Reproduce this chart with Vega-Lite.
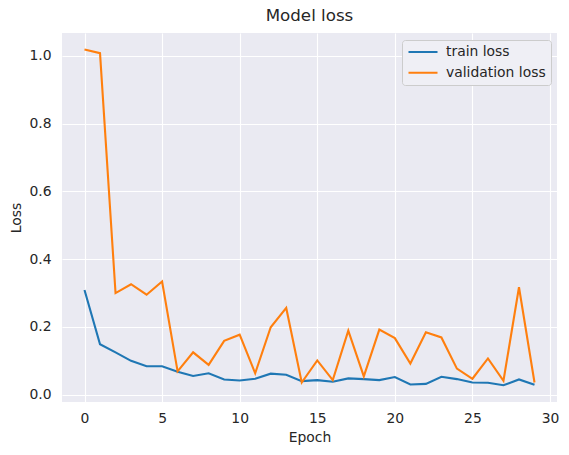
{
  "$schema": "https://vega.github.io/schema/vega-lite/v6.json",
  "autosize": "none",
  "width": 495,
  "height": 369,
  "padding": {"left": 62, "top": 33, "right": 12, "bottom": 53},
  "background": "white",
  "title": {
    "text": "Model loss",
    "font": "DejaVu Sans",
    "fontSize": 16.7,
    "fontWeight": "normal",
    "color": "#262626",
    "offset": 8
  },
  "config": {
    "view": {"fill": "#EAEAF2", "stroke": null},
    "axis": {
      "domain": false,
      "ticks": false,
      "grid": true,
      "gridColor": "white",
      "gridWidth": 1.1,
      "labelFont": "DejaVu Sans",
      "labelFontSize": 13.9,
      "labelColor": "#262626",
      "titleFont": "DejaVu Sans",
      "titleFontSize": 13.9,
      "titleFontWeight": "normal",
      "titleColor": "#262626"
    }
  },
  "data": {
    "values": [
      {"epoch": 0, "series": "train loss", "loss": 0.309},
      {"epoch": 1, "series": "train loss", "loss": 0.149},
      {"epoch": 2, "series": "train loss", "loss": 0.125},
      {"epoch": 3, "series": "train loss", "loss": 0.100},
      {"epoch": 4, "series": "train loss", "loss": 0.084},
      {"epoch": 5, "series": "train loss", "loss": 0.084},
      {"epoch": 6, "series": "train loss", "loss": 0.068},
      {"epoch": 7, "series": "train loss", "loss": 0.055},
      {"epoch": 8, "series": "train loss", "loss": 0.063},
      {"epoch": 9, "series": "train loss", "loss": 0.045},
      {"epoch": 10, "series": "train loss", "loss": 0.042},
      {"epoch": 11, "series": "train loss", "loss": 0.047},
      {"epoch": 12, "series": "train loss", "loss": 0.062},
      {"epoch": 13, "series": "train loss", "loss": 0.059},
      {"epoch": 14, "series": "train loss", "loss": 0.040},
      {"epoch": 15, "series": "train loss", "loss": 0.043},
      {"epoch": 16, "series": "train loss", "loss": 0.038},
      {"epoch": 17, "series": "train loss", "loss": 0.048},
      {"epoch": 18, "series": "train loss", "loss": 0.046},
      {"epoch": 19, "series": "train loss", "loss": 0.043},
      {"epoch": 20, "series": "train loss", "loss": 0.052},
      {"epoch": 21, "series": "train loss", "loss": 0.030},
      {"epoch": 22, "series": "train loss", "loss": 0.032},
      {"epoch": 23, "series": "train loss", "loss": 0.053},
      {"epoch": 24, "series": "train loss", "loss": 0.046},
      {"epoch": 25, "series": "train loss", "loss": 0.036},
      {"epoch": 26, "series": "train loss", "loss": 0.035},
      {"epoch": 27, "series": "train loss", "loss": 0.028},
      {"epoch": 28, "series": "train loss", "loss": 0.045},
      {"epoch": 29, "series": "train loss", "loss": 0.029},
      {"epoch": 0, "series": "validation loss", "loss": 1.019},
      {"epoch": 1, "series": "validation loss", "loss": 1.008},
      {"epoch": 2, "series": "validation loss", "loss": 0.300},
      {"epoch": 3, "series": "validation loss", "loss": 0.326},
      {"epoch": 4, "series": "validation loss", "loss": 0.295},
      {"epoch": 5, "series": "validation loss", "loss": 0.334},
      {"epoch": 6, "series": "validation loss", "loss": 0.069},
      {"epoch": 7, "series": "validation loss", "loss": 0.125},
      {"epoch": 8, "series": "validation loss", "loss": 0.088},
      {"epoch": 9, "series": "validation loss", "loss": 0.159},
      {"epoch": 10, "series": "validation loss", "loss": 0.177},
      {"epoch": 11, "series": "validation loss", "loss": 0.063},
      {"epoch": 12, "series": "validation loss", "loss": 0.199},
      {"epoch": 13, "series": "validation loss", "loss": 0.256},
      {"epoch": 14, "series": "validation loss", "loss": 0.036},
      {"epoch": 15, "series": "validation loss", "loss": 0.101},
      {"epoch": 16, "series": "validation loss", "loss": 0.043},
      {"epoch": 17, "series": "validation loss", "loss": 0.189},
      {"epoch": 18, "series": "validation loss", "loss": 0.054},
      {"epoch": 19, "series": "validation loss", "loss": 0.192},
      {"epoch": 20, "series": "validation loss", "loss": 0.167},
      {"epoch": 21, "series": "validation loss", "loss": 0.092},
      {"epoch": 22, "series": "validation loss", "loss": 0.184},
      {"epoch": 23, "series": "validation loss", "loss": 0.169},
      {"epoch": 24, "series": "validation loss", "loss": 0.077},
      {"epoch": 25, "series": "validation loss", "loss": 0.047},
      {"epoch": 26, "series": "validation loss", "loss": 0.107},
      {"epoch": 27, "series": "validation loss", "loss": 0.041},
      {"epoch": 28, "series": "validation loss", "loss": 0.317},
      {"epoch": 29, "series": "validation loss", "loss": 0.036}
    ]
  },
  "mark": {"type": "line", "strokeWidth": 2.1, "clip": true},
  "encoding": {
    "x": {
      "field": "epoch",
      "type": "quantitative",
      "title": "Epoch",
      "scale": {"domain": [-1.45, 30.45], "nice": false, "zero": false},
      "axis": {"values": [0, 5, 10, 15, 20, 25, 30], "format": "d", "labelPadding": 9, "titlePadding": 6}
    },
    "y": {
      "field": "loss",
      "type": "quantitative",
      "title": "Loss",
      "scale": {"domain": [-0.0216, 1.0676], "nice": false, "zero": false},
      "axis": {"values": [0, 0.2, 0.4, 0.6, 0.8, 1.0], "format": ".1f", "labelPadding": 11, "titlePadding": 5}
    },
    "color": {
      "field": "series",
      "type": "nominal",
      "scale": {"domain": ["train loss", "validation loss"], "range": ["#1f77b4", "#ff7f0e"]},
      "legend": {
        "title": null,
        "orient": "none",
        "legendX": 340,
        "legendY": 7,
        "symbolType": "stroke",
        "symbolSize": 841,
        "symbolStrokeWidth": 2.1,
        "clipHeight": 14,
        "labelFont": "DejaVu Sans",
        "labelFontSize": 13.9,
        "labelColor": "#262626",
        "labelOffset": 7,
        "rowPadding": 6.7,
        "padding": 5,
        "fillColor": "#EFEFF5",
        "strokeColor": "#cccccc",
        "cornerRadius": 3
      }
    }
  }
}
